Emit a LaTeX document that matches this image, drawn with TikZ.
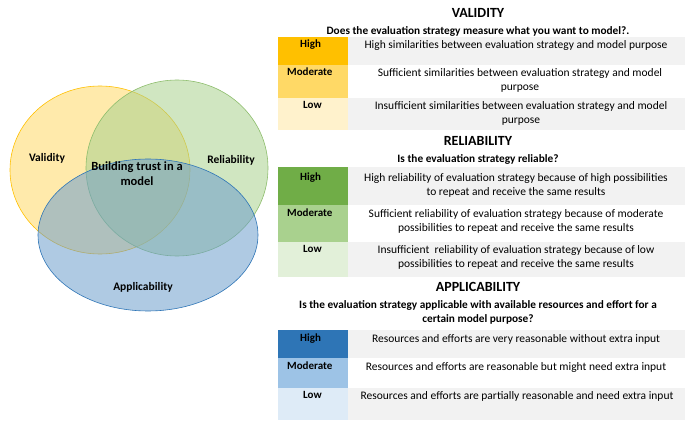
\documentclass[tikz,border=0pt]{standalone}
\usepackage{fontspec}
\setmainfont{Carlito}
\usetikzlibrary{positioning}
\definecolor{vhigh}{HTML}{FFC000}
\definecolor{vmod}{HTML}{FFD966}
\definecolor{vlow}{HTML}{FFF2CC}
\definecolor{rhigh}{HTML}{70AD47}
\definecolor{rmod}{HTML}{A9D18E}
\definecolor{rlow}{HTML}{E2F0D9}
\definecolor{ahigh}{HTML}{2E75B6}
\definecolor{amod}{HTML}{9DC3E6}
\definecolor{alow}{HTML}{DEEBF7}
\definecolor{rowgray}{HTML}{F2F2F2}
\begin{document}
\begin{tikzpicture}[x=1pt,y=-1pt,
        level/.style={anchor=north west, font=\fontsize{11}{12}\selectfont\bfseries, align=center, inner sep=0pt},
        desc/.style={font=\fontsize{11.5}{14}\selectfont, align=center, inner sep=0pt, anchor=north},
        title/.style={font=\fontsize{14}{15}\selectfont\bfseries},
        question/.style={font=\fontsize{11.3}{14}\selectfont\bfseries, align=center},
        set/.style={draw, line width=0.6pt, fill opacity=0.55},
        setlabel/.style={font=\fontsize{11.5}{13}\selectfont\bfseries, align=center}
    ]
        \useasboundingbox (0,0) rectangle (685,422);
        % Venn diagram
        \fill[set, draw=vhigh, fill=vmod] (100,170) ellipse [x radius=90, y radius=84];
        \fill[set, draw=rhigh!80, fill=rmod] (177,168) ellipse [x radius=91, y radius=88];
        \fill[set, draw=ahigh, fill=ahigh!70] (148,235) ellipse [x radius=110, y radius=76];
        \node[setlabel] (val) at (47,158) {Validity};
        \node[setlabel] (rel) at (231,160) {Reliability};
        \node[setlabel] (app) at (143,287) {Applicability};
        \node[setlabel, font=\fontsize{12.5}{15}\selectfont\bfseries] (trust) at (137,174) {Building trust in a\\model};

        % Validity table
        \node[title] (vtitle) at (478,13) {VALIDITY};
        \node[question] (vq) at (478,31) {Does the evaluation strategy measure what you want to model?.};
        \fill[vhigh] (278,37) rectangle (348,65);
        \fill[vmod] (278,65) rectangle (348,98);
        \fill[vlow] (278,98) rectangle (348,130);
        \fill[rowgray] (348,37) rectangle (685,65);
        \fill[rowgray] (348,98) rectangle (685,130);
        \node[level] (vh) at (300,40) {High};
        \node[level] (vm) at (287,68) {Moderate};
        \node[level] (vl) at (303,101) {Low};
        \node[desc] (vhd) at (516,40) {High similarities between evaluation strategy and model purpose};
        \node[desc] (vmd) at (520,68) {Sufficient similarities between evaluation strategy and model\\purpose};
        \node[desc] (vld) at (521,101) {Insufficient similarities between evaluation strategy and model\\purpose};

        % Reliability table
        \node[title] (rtitle) at (478,141) {RELIABILITY};
        \node[question] (rq) at (478,159) {Is the evaluation strategy reliable?};
        \fill[rhigh] (278,167) rectangle (348,205);
        \fill[rmod] (278,205) rectangle (348,242);
        \fill[rlow] (278,242) rectangle (348,277);
        \fill[rowgray] (348,167) rectangle (685,205);
        \fill[rowgray] (348,242) rectangle (685,277);
        \node[level] (rh) at (300,173) {High};
        \node[level] (rm) at (287,209) {Moderate};
        \node[level] (rl) at (303,245) {Low};
        \node[desc] (rhd) at (516,173) {High reliability of evaluation strategy because of high possibilities\\to repeat and receive the same results};
        \node[desc] (rmd) at (516,209) {Sufficient reliability of evaluation strategy because of moderate\\possibilities to repeat and receive the same results};
        \node[desc] (rld) at (516,245) {Insufficient\ \ reliability of evaluation strategy because of low\\possibilities to repeat and receive the same results};

        % Applicability table
        \node[title] (atitle) at (478,287) {APPLICABILITY};
        \node[question] (aq) at (478,312) {Is the evaluation strategy applicable with available resources and effort for a\\certain model purpose?};
        \fill[ahigh] (278,330) rectangle (348,358);
        \fill[amod] (278,358) rectangle (348,388);
        \fill[alow] (278,388) rectangle (348,420);
        \fill[rowgray] (348,330) rectangle (685,358);
        \fill[rowgray] (348,388) rectangle (685,420);
        \node[level] (ah) at (300,334) {High};
        \node[level] (am) at (287,362) {Moderate};
        \node[level] (al) at (303,391) {Low};
        \node[desc] (ahd) at (516,334) {Resources and efforts are very reasonable without extra input};
        \node[desc] (amd) at (516,362) {Resources and efforts are reasonable but might need extra input};
        \node[desc] (ald) at (517,391) {Resources and efforts are partially reasonable and need extra input};
    \end{tikzpicture}
\end{document}
